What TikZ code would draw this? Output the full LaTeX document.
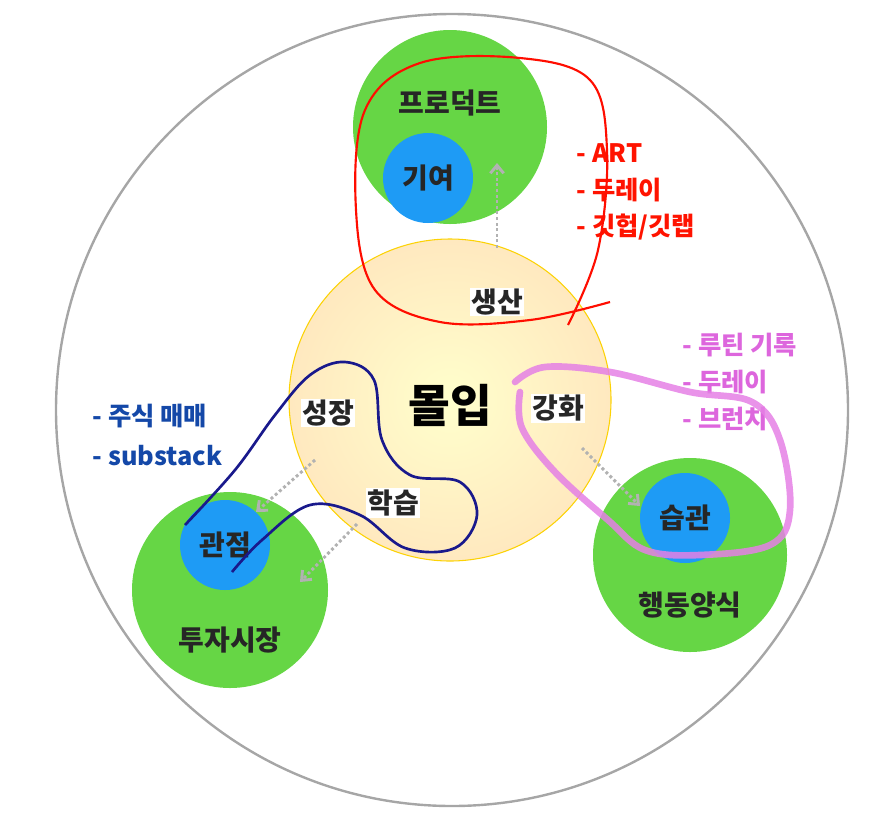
\documentclass[tikz,border=0pt]{standalone}
\usepackage{fontspec}
\setmainfont{Noto Sans CJK KR}
\usetikzlibrary{arrows.meta}
\definecolor{leaf}{HTML}{66D645}
\definecolor{sky}{HTML}{1E9BF5}
\definecolor{navy}{HTML}{1448A8}

\tikzset{
  dot/.style={gray!60,line width=2.2pt,dotted,-{Straight Barb[length=6pt,width=10pt]}},
  lab/.style={font=\bfseries\fontsize{21}{24}\selectfont,text=black!85},
}

\begin{document}
\begin{tikzpicture}[x=0.75pt,y=-0.75pt]
    \useasboundingbox (0,0) rectangle (880,818);
    % outer circle
    \draw[gray!70,line width=1.8pt] (452,410) circle (396);
    % central
    \shade[inner color=yellow!20,outer color=yellow!30!orange!25] (450,400) circle (161);
    \draw[yellow!70!orange,line width=0.8pt] (450,400) circle (161);
    % green/blue circles
    \fill[leaf] (450,127) circle (97);
    \fill[leaf] (230,590) circle (98);
    \fill[leaf] (690,555) circle (97);
    \fill[sky] (428,178) circle (45);
    \fill[sky] (225,545) circle (45);
    \fill[sky] (685,518) circle (45);
    % labels
    \node[lab] (prod) at (450,103) {프로덕트};
    \node[lab] (give) at (428,178) {기여};
    \node[lab] (view) at (225,545) {관점};
    \node[lab] (mkt) at (230,640) {투자시장};
    \node[lab] (habit) at (685,518) {습관};
    \node[lab] (act) at (690,605) {행동양식};
    \node[lab,fill=white,inner sep=1pt] (make) at (497,302) {생산};
    \node[lab,fill=white,inner sep=1pt] (grow) at (328,413) {성장};
    \node[lab,fill=white,inner sep=1pt] (learn) at (393,503) {학습};
    \node[lab,fill=white,inner sep=1pt] (rein) at (558,408) {강화};
    \node[font=\bfseries\fontsize{34}{38}\selectfont] (flow) at (450,405) {몰입};
    % arrows
    \coordinate (t1) at (497,248); \coordinate (t2) at (497,163);
    \coordinate (l1) at (315,460); \coordinate (l2) at (256,512);
    \coordinate (m1) at (357,524); \coordinate (m2) at (300,582);
    \coordinate (r1) at (582,448); \coordinate (r2) at (640,506);
    \draw[dot] (t1) -- (t2);
    \draw[dot] (l1) -- (l2);
    \draw[dot] (m1) -- (m2);
    \draw[dot] (r1) -- (r2);
    % lists
    \node[anchor=west,align=left,text=red!85!orange,font=\bfseries\fontsize{19}{27.5}\selectfont] (rlist) at (572,192) {- ART\\- 두레이\\- 깃헙/깃랩};
    \node[anchor=west,align=left,text=navy,font=\bfseries\fontsize{19}{30}\selectfont] (blist) at (88,435) {- 주식 매매\\- substack};
    \node[anchor=west,align=left,text=violet!45!magenta!60,font=\bfseries\fontsize{19}{27.5}\selectfont] (vlist) at (678,382) {- 루틴 기록\\- 두레이\\- 브런치};
    % freehand strokes
    \draw[red!90!orange,line width=1.6pt] plot[smooth,tension=0.6] coordinates {(568,325) (598,250) (607,150) (590,80) (520,58) (420,63) (365,110) (356,210) (375,290) (440,322) (530,320) (610,302)};
    \draw[blue!50!black!90,line width=2pt] plot[smooth,tension=0.6] coordinates {(185,525) (235,470) (275,415) (310,375) (345,362) (374,380) (382,440) (410,475) (460,482) (477,515) (455,548) (405,548) (360,515) (310,505) (262,540) (232,572)};
    \draw[violet!40!magenta!50,line width=5pt,opacity=0.85,line cap=round] plot[smooth,tension=0.6] coordinates {(515,382) (545,367) (610,372) (690,392) (752,402) (780,440) (790,510) (770,545) (700,555) (645,550) (608,520) (555,472) (522,428) (520,392)};
\end{tikzpicture}
\end{document}
